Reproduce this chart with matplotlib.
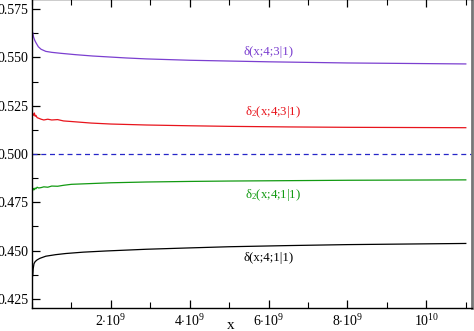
import numpy as np
import matplotlib.pyplot as plt
from matplotlib.ticker import MultipleLocator, FixedLocator, FixedFormatter

# x in units of 1e9
x_d431 = [0.02, 0.04, 0.07, 0.1, 0.16, 0.23, 0.35, 0.5, 0.73, 1.1, 1.54,
          2.38, 2.9, 4.0, 6.0, 8.0, 11.0]
y_d431 = [0.5628, 0.5605, 0.5588, 0.5576, 0.5555, 0.5542, 0.5531, 0.5526,
          0.5521, 0.5514, 0.5507, 0.5497, 0.5492, 0.5485, 0.5477, 0.5471,
          0.5466]

x_d2431 = [0.02, 0.04, 0.06, 0.08, 0.1, 0.13, 0.17, 0.23, 0.3, 0.4, 0.5,
           0.65, 0.8, 1.0, 1.5, 2.0, 2.9, 4.0, 5.0, 6.5, 8.0, 11.0]
y_d2431 = [0.5208, 0.5200, 0.5212, 0.5195, 0.5200, 0.5188, 0.5185, 0.5180,
           0.5176, 0.5180, 0.5176, 0.5178, 0.5171, 0.5168, 0.5160, 0.5155,
           0.5150, 0.5146, 0.5143, 0.5140, 0.5138, 0.5136]

x_d2411 = [0.02, 0.04, 0.06, 0.08, 0.1, 0.13, 0.17, 0.23, 0.3, 0.4, 0.5,
           0.65, 0.8, 1.0, 1.5, 2.0, 2.9, 4.0, 5.0, 6.5, 8.0, 11.0]
y_d2411 = [0.4812, 0.4822, 0.4815, 0.4824, 0.4820, 0.4828, 0.4824, 0.4826,
           0.4830, 0.4828, 0.4834, 0.4833, 0.4838, 0.4843, 0.4847, 0.4851,
           0.4855, 0.4858, 0.4860, 0.4862, 0.4864, 0.4866]

x_d411 = [0.02, 0.03, 0.05, 0.08, 0.13, 0.2, 0.35, 0.6, 0.86, 1.3, 1.87,
          2.9, 4.0, 5.0, 6.5, 8.0, 11.0]
y_d411 = [0.4370, 0.4405, 0.4432, 0.4443, 0.4452, 0.4460, 0.4471, 0.4479,
          0.4485, 0.4492, 0.4498, 0.4507, 0.4514, 0.4520, 0.4526, 0.4531,
          0.4537]

labels = ["δ(x;4;3|1)", "δ$_2$(x;4;3|1)", "δ$_2$(x;4;1|1)", "δ(x;4;1|1)"]

xticks = [2, 4, 6, 8, 10]
xtick_labels = [r"2$\cdot$10$^9$", r"4$\cdot$10$^9$", r"6$\cdot$10$^9$",
                r"8$\cdot$10$^9$", r"10$^{10}$"]

plt.rcParams['font.family'] = ['Liberation Serif', 'DejaVu Serif']
plt.rcParams['mathtext.fontset'] = 'custom'
plt.rcParams['mathtext.rm'] = 'Liberation Serif'
plt.rcParams['mathtext.it'] = 'Liberation Serif'
plt.rcParams['mathtext.cal'] = 'Liberation Serif'

fig = plt.figure(figsize=(4.74, 3.31), dpi=100)
ax = fig.add_axes([0.0675, 0.0695, 0.9285, 0.9335])

purple, red, green = "#7b3fd0", "#e8141c", "#129a12"

ax.plot(x_d431, y_d431, color=purple, lw=0.9)
ax.plot(x_d2431, y_d2431, color=red, lw=0.9)
ax.plot(x_d2411, y_d2411, color=green, lw=0.9)
ax.plot(x_d411, y_d411, color="black", lw=0.9)
ax.axhline(0.5, color="#2626c8", lw=0.9, ls=(0, (4, 3)))

fs = 9.2
ax.text(6.0, 0.5529, labels[0], color=purple, fontsize=fs, ha="center", va="center")
ax.text(6.1, 0.5218, labels[1], color=red, fontsize=fs, ha="center", va="center")
ax.text(6.1, 0.4787, labels[2], color=green, fontsize=fs, ha="center", va="center")
ax.text(6.0, 0.4461, labels[3], color="black", fontsize=fs, ha="center", va="center")

ax.set_xlim(0, 11.16)
ax.set_ylim(0.4203, 0.5802)

ax.xaxis.set_major_locator(FixedLocator(xticks))
ax.xaxis.set_major_formatter(FixedFormatter(xtick_labels))
ax.xaxis.set_minor_locator(MultipleLocator(1))
ax.yaxis.set_major_locator(MultipleLocator(0.025))
ax.yaxis.set_minor_locator(MultipleLocator(0.0125))
ax.yaxis.set_major_formatter(plt.FormatStrFormatter("%.3f"))

ax.tick_params(which="both", direction="in", top=True, right=False, labelsize=10)
ax.tick_params(which="major", length=6, width=0.9)
ax.tick_params(which="minor", length=4, width=0.8)
ax.tick_params(axis="y", pad=2.5)
ax.tick_params(axis="x", pad=4)

# axis label sits between the 4e9 and 6e9 tick labels
ax.text(5.04, -0.058, "x", transform=ax.get_xaxis_transform(),
        fontsize=11, ha="center", va="center")

for s in ["left", "bottom", "top"]:
    ax.spines[s].set_linewidth(1.0)
ax.spines["right"].set_color("#777777")
ax.spines["right"].set_linewidth(2.0)

fig.savefig("out.png", dpi=100)
